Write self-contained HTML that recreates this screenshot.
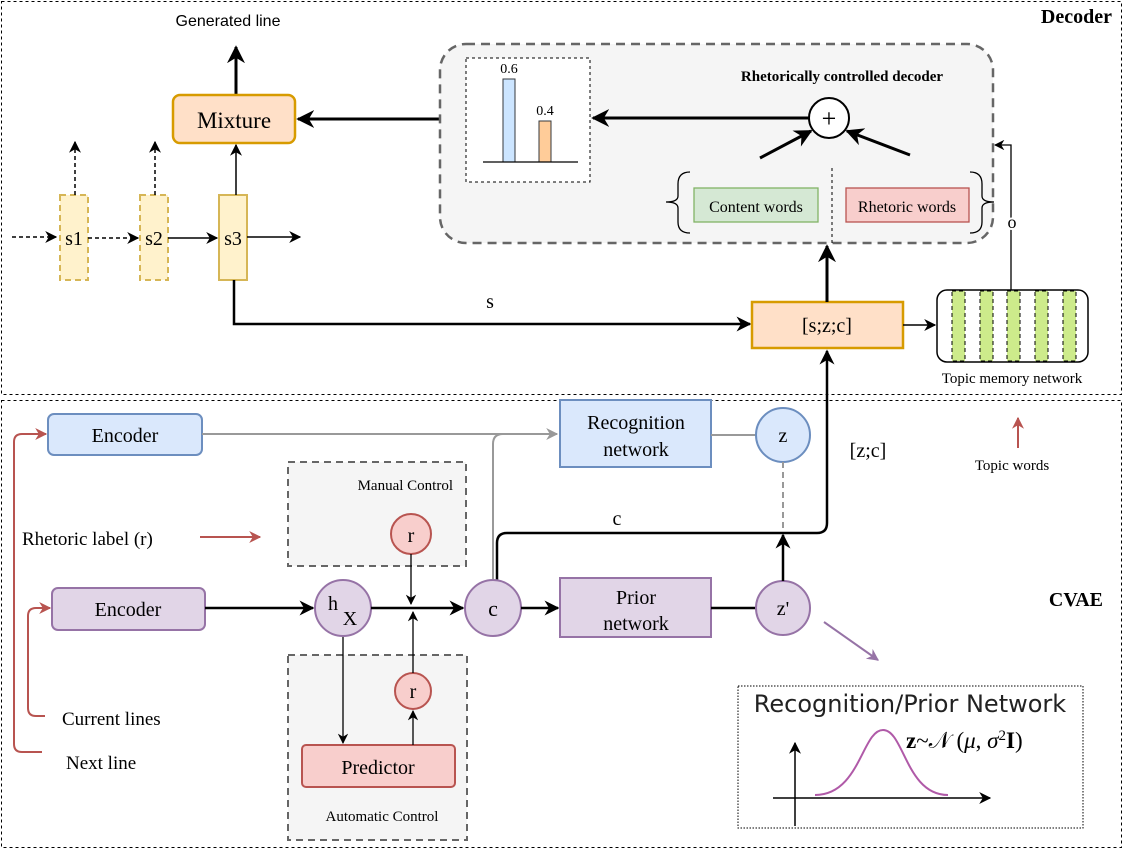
<!DOCTYPE html>
<html><head><meta charset="utf-8"><style>body{margin:0;background:#fff}svg{display:block}</style></head><body>
<svg width="1127" height="853" viewBox="0 0 1127 853" xmlns="http://www.w3.org/2000/svg" font-family="Liberation Serif, serif">
<defs>
<marker id="a" viewBox="0 0 10 10" refX="9" refY="5" markerWidth="6" markerHeight="6" orient="auto-start-reverse"><path d="M0,0 L10,5 L0,10 L3,5z" fill="#000"/></marker>
<marker id="b" viewBox="0 0 10 10" refX="9" refY="5" markerWidth="8" markerHeight="8" orient="auto"><path d="M0,0 L10,5 L0,10 L3,5z" fill="#000"/></marker>
<marker id="ag" viewBox="0 0 10 10" refX="9" refY="5" markerWidth="6" markerHeight="6" orient="auto"><path d="M0,0 L10,5 L0,10 L3,5z" fill="#999"/></marker>
<marker id="ar" viewBox="0 0 10 10" refX="9" refY="5" markerWidth="6" markerHeight="6" orient="auto"><path d="M0,0 L10,5 L0,10 L3,5z" fill="#b85450"/></marker>
<marker id="ap" viewBox="0 0 10 10" refX="9" refY="5" markerWidth="6" markerHeight="6" orient="auto"><path d="M0,0 L10,5 L0,10 L3,5z" fill="#9673a6"/></marker>
</defs>
<rect x="1.5" y="1.5" width="1120" height="393" fill="none" stroke="#000" stroke-dasharray="3,3"/>
<rect x="1.5" y="400.5" width="1120" height="447" fill="none" stroke="#000" stroke-dasharray="3,3"/>
<text x="1112" y="23" text-anchor="end" font-size="20" font-weight="bold">Decoder</text>
<text x="1103" y="606" text-anchor="end" font-size="20" font-weight="bold">CVAE</text>

<text x="228" y="26" text-anchor="middle" font-size="16" font-family="Liberation Sans, sans-serif">Generated line</text>
<line x1="236" y1="95" x2="236" y2="47" stroke="#000" stroke-width="3" marker-end="url(#a)"/>
<rect x="173" y="95" width="122" height="48" rx="7" fill="#ffe0c8" stroke="#d79b00" stroke-width="2.5"/>
<text x="234" y="128" text-anchor="middle" font-size="23">Mixture</text>
<line x1="440" y1="119" x2="298" y2="119" stroke="#000" stroke-width="3" marker-end="url(#a)"/>
<rect x="60" y="195" width="28" height="85" fill="#fff2cc" stroke="#d6b656" stroke-width="2" stroke-dasharray="6,4"/>
<rect x="140" y="195" width="28" height="85" fill="#fff2cc" stroke="#d6b656" stroke-width="2" stroke-dasharray="6,4"/>
<rect x="219" y="195" width="28" height="85" fill="#fff2cc" stroke="#d6b656" stroke-width="2"/>
<text x="74" y="245" text-anchor="middle" font-size="20">s1</text>
<text x="154" y="245" text-anchor="middle" font-size="20">s2</text>
<text x="233" y="245" text-anchor="middle" font-size="20">s3</text>
<line x1="12" y1="237" x2="56" y2="237" stroke="#000" stroke-width="1.5" stroke-dasharray="4,3" marker-end="url(#b)"/>
<line x1="88" y1="238" x2="138" y2="238" stroke="#000" stroke-width="1.5" stroke-dasharray="4,3" marker-end="url(#b)"/>
<line x1="168" y1="238" x2="217" y2="238" stroke="#000" stroke-width="1.5" marker-end="url(#b)"/>
<line x1="247" y1="237" x2="300" y2="237" stroke="#000" stroke-width="1.5" marker-end="url(#b)"/>
<line x1="75" y1="195" x2="75" y2="142" stroke="#000" stroke-width="1.5" stroke-dasharray="4,3" marker-end="url(#b)"/>
<line x1="155" y1="195" x2="155" y2="142" stroke="#000" stroke-width="1.5" stroke-dasharray="4,3" marker-end="url(#b)"/>
<line x1="236" y1="195" x2="236" y2="145" stroke="#000" stroke-width="1.5" marker-end="url(#b)"/>
<polyline points="234,280 234,324 750,324" fill="none" stroke="#000" stroke-width="2.5" marker-end="url(#a)"/>
<text x="490" y="308" text-anchor="middle" font-size="20">s</text>

<rect x="440" y="44" width="553" height="199" rx="26" fill="#f5f5f5" stroke="#666" stroke-width="2.5" stroke-dasharray="9,6"/>
<rect x="466" y="58" width="124" height="124" fill="#fff" stroke="#000" stroke-dasharray="3,3"/>
<rect x="503" y="79" width="12" height="83" fill="#cce5ff" stroke="#36393d"/>
<rect x="539" y="121" width="12" height="41" fill="#ffcc99" stroke="#36393d"/>
<line x1="483" y1="162" x2="578" y2="162" stroke="#000" stroke-width="1.2"/>
<text x="509" y="73" text-anchor="middle" font-size="14">0.6</text>
<text x="545" y="115" text-anchor="middle" font-size="14">0.4</text>
<text x="842" y="81" text-anchor="middle" font-size="15" font-weight="bold">Rhetorically controlled decoder</text>
<circle cx="829" cy="118" r="20" fill="#fff" stroke="#000" stroke-width="2"/>
<text x="829" y="127" text-anchor="middle" font-size="26">+</text>
<line x1="809" y1="118" x2="593" y2="118" stroke="#000" stroke-width="3" marker-end="url(#a)"/>
<line x1="760" y1="158" x2="811" y2="131" stroke="#000" stroke-width="3" marker-end="url(#a)"/>
<line x1="910" y1="155" x2="847" y2="131" stroke="#000" stroke-width="3" marker-end="url(#a)"/>
<path d="M690,172 Q678,172 678,184 L678,196 Q678,202 666,202 Q678,202 678,208 L678,222 Q678,233 690,233" fill="none" stroke="#000" stroke-width="1.3"/>
<path d="M970,172 Q982,172 982,184 L982,196 Q982,202 994,202 Q982,202 982,208 L982,222 Q982,233 970,233" fill="none" stroke="#000" stroke-width="1.3"/>
<rect x="694" y="188" width="124" height="34" fill="#d5e8d4" stroke="#82b366" stroke-width="1.3"/>
<text x="756" y="212" text-anchor="middle" font-size="16">Content words</text>
<rect x="846" y="188" width="123" height="34" fill="#f8cecc" stroke="#b85450" stroke-width="1.3"/>
<text x="907" y="212" text-anchor="middle" font-size="16">Rhetoric words</text>
<line x1="832" y1="168" x2="832" y2="243" stroke="#000" stroke-dasharray="3,3"/>

<rect x="752" y="302" width="151" height="46" fill="#ffe0c8" stroke="#d79b00" stroke-width="2.5"/>
<text x="827" y="332" text-anchor="middle" font-size="20">[s;z;c]</text>
<line x1="827" y1="302" x2="827" y2="246" stroke="#000" stroke-width="3" marker-end="url(#a)"/>
<line x1="903" y1="325" x2="935" y2="325" stroke="#000" stroke-width="1.5" marker-end="url(#b)"/>
<rect x="937" y="290" width="151" height="72" rx="10" fill="#fff" stroke="#000" stroke-width="1.5"/>
<g fill="#cdeb8b" stroke="#000" stroke-dasharray="4,3" stroke-width="1">
<rect x="952" y="291" width="13" height="70"/><rect x="980" y="291" width="13" height="70"/><rect x="1007" y="291" width="13" height="70"/><rect x="1035" y="291" width="13" height="70"/><rect x="1063" y="291" width="13" height="70"/>
</g>
<text x="1012" y="383" text-anchor="middle" font-size="15">Topic memory network</text>
<polyline points="1011,290 1011,145 995,145" fill="none" stroke="#000" stroke-width="1.3" marker-end="url(#b)"/>
<text x="1012" y="228" text-anchor="middle" font-size="18" fill="#000" style="paint-order:stroke" stroke="#fff" stroke-width="4">o</text>

<rect x="48" y="414" width="154" height="41" rx="6" fill="#dae8fc" stroke="#6c8ebf" stroke-width="2"/>
<text x="125" y="442" text-anchor="middle" font-size="20">Encoder</text>
<line x1="202" y1="434" x2="557" y2="434" stroke="#999" stroke-width="2" marker-end="url(#ag)"/>
<path d="M493,580 L493,444 Q493,434 503,434" fill="none" stroke="#999" stroke-width="2"/>
<rect x="560" y="400" width="151" height="67" fill="#dae8fc" stroke="#6c8ebf" stroke-width="2"/>
<text x="636" y="429" text-anchor="middle" font-size="20">Recognition</text>
<text x="636" y="456" text-anchor="middle" font-size="20">network</text>
<line x1="711" y1="435" x2="756" y2="435" stroke="#999" stroke-width="2"/>
<circle cx="783" cy="435" r="27" fill="#dae8fc" stroke="#6c8ebf" stroke-width="2"/>
<text x="783" y="442" text-anchor="middle" font-size="20">z</text>
<line x1="783" y1="462" x2="783" y2="533" stroke="#999" stroke-width="2" stroke-dasharray="6,4"/>
<text x="868" y="457" text-anchor="middle" font-size="20">[z;c]</text>
<line x1="1018" y1="448" x2="1018" y2="418" stroke="#b85450" stroke-width="2" marker-end="url(#ar)"/>
<text x="1012" y="470" text-anchor="middle" font-size="15">Topic words</text>

<rect x="288" y="462" width="178" height="104" fill="#f5f5f5" stroke="#666" stroke-width="2" stroke-dasharray="7,5"/>
<text x="453" y="490" text-anchor="end" font-size="15">Manual Control</text>
<circle cx="411" cy="534" r="20" fill="#f8cecc" stroke="#b85450" stroke-width="2"/>
<text x="411" y="542" text-anchor="middle" font-size="20">r</text>
<line x1="411" y1="554" x2="411" y2="604" stroke="#000" stroke-width="1.3" marker-end="url(#b)"/>
<text x="22" y="545" font-size="19">Rhetoric label (r)</text>
<line x1="200" y1="537" x2="260" y2="537" stroke="#b85450" stroke-width="2" marker-end="url(#ar)"/>

<rect x="288" y="655" width="179" height="185" fill="#f5f5f5" stroke="#666" stroke-width="2" stroke-dasharray="7,5"/>
<text x="382" y="821" text-anchor="middle" font-size="15">Automatic Control</text>
<rect x="302" y="745" width="153" height="42" rx="4" fill="#f8cecc" stroke="#b85450" stroke-width="2"/>
<text x="378" y="774" text-anchor="middle" font-size="20">Predictor</text>
<circle cx="413" cy="691" r="18" fill="#f8cecc" stroke="#b85450" stroke-width="2"/>
<text x="413" y="698" text-anchor="middle" font-size="20">r</text>
<line x1="413" y1="745" x2="413" y2="711" stroke="#000" stroke-width="1.3" marker-end="url(#b)"/>
<line x1="413" y1="673" x2="413" y2="612" stroke="#000" stroke-width="1.3" marker-end="url(#b)"/>
<line x1="343" y1="636" x2="343" y2="743" stroke="#000" stroke-width="1.3" marker-end="url(#b)"/>

<rect x="52" y="588" width="153" height="42" rx="6" fill="#e1d5e7" stroke="#9673a6" stroke-width="2"/>
<text x="128" y="616" text-anchor="middle" font-size="20">Encoder</text>
<line x1="205" y1="608" x2="313" y2="608" stroke="#000" stroke-width="2.5" marker-end="url(#a)"/>
<circle cx="343" cy="608" r="28" fill="#e1d5e7" stroke="#9673a6" stroke-width="2"/>
<text x="333" y="610" text-anchor="middle" font-size="20">h</text><text x="350" y="625" text-anchor="middle" font-size="20">X</text>
<line x1="371" y1="608" x2="463" y2="608" stroke="#000" stroke-width="2.5" marker-end="url(#a)"/>
<path d="M497,582 L497,543 Q497,533 507,533 L817,533 Q827,533 827,523 L827,351" fill="none" stroke="#000" stroke-width="2.5" marker-end="url(#a)"/>
<text x="617" y="525" text-anchor="middle" font-size="20">c</text>
<circle cx="493" cy="608" r="28" fill="#e1d5e7" stroke="#9673a6" stroke-width="2"/>
<text x="493" y="616" text-anchor="middle" font-size="22">c</text>
<line x1="521" y1="608" x2="558" y2="608" stroke="#000" stroke-width="2.5" marker-end="url(#a)"/>
<rect x="560" y="578" width="151" height="59" fill="#e1d5e7" stroke="#9673a6" stroke-width="2"/>
<text x="636" y="604" text-anchor="middle" font-size="20">Prior</text>
<text x="636" y="630" text-anchor="middle" font-size="20">network</text>
<line x1="711" y1="608" x2="756" y2="608" stroke="#000" stroke-width="2.5"/>
<circle cx="783" cy="608" r="27" fill="#e1d5e7" stroke="#9673a6" stroke-width="2"/>
<text x="783" y="615" text-anchor="middle" font-size="20">z'</text>
<line x1="783" y1="581" x2="783" y2="535" stroke="#000" stroke-width="2.5" marker-end="url(#a)"/>
<line x1="824" y1="622" x2="878" y2="660" stroke="#9673a6" stroke-width="2" marker-end="url(#ap)"/>

<text x="62" y="725" font-size="19">Current lines</text>
<text x="66" y="769" font-size="19">Next line</text>
<path d="M45,716 L36,716 Q28,716 28,708 L28,616 Q28,608 36,608 L50,608" fill="none" stroke="#b85450" stroke-width="2" marker-end="url(#ar)"/>
<path d="M42,752 L22,752 Q14,752 14,744 L14,442 Q14,434 22,434 L46,434" fill="none" stroke="#b85450" stroke-width="2" marker-end="url(#ar)"/>

<rect x="738" y="686" width="345" height="142" fill="#fff" stroke="#000" stroke-dasharray="1.5,1.5"/>
<text x="910" y="712" text-anchor="middle" font-size="24" font-family="DejaVu Sans, sans-serif" fill="#222">Recognition/Prior Network</text>
<line x1="795" y1="826" x2="795" y2="743" stroke="#000" stroke-width="1.5" marker-end="url(#b)"/>
<line x1="773" y1="798" x2="990" y2="798" stroke="#000" stroke-width="1.5" marker-end="url(#b)"/>
<path d="M815,795 C860,795 862,730 883,730 C904,730 906,795 948,795" fill="none" stroke="#b05aa8" stroke-width="2"/>
<text x="906" y="748" font-size="23"><tspan font-weight="bold">z</tspan>~𝒩 (<tspan font-style="italic">μ</tspan>, <tspan font-style="italic">σ</tspan><tspan font-size="15" dy="-8">2</tspan><tspan dy="8" font-weight="bold">I</tspan>)</text>
</svg>
</body></html>
